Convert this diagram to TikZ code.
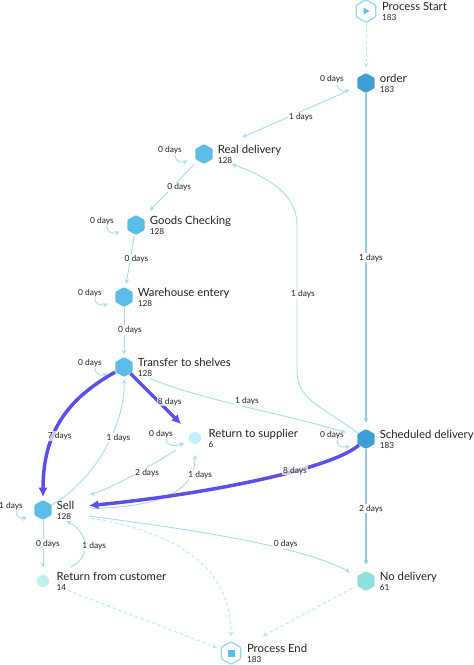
\documentclass[tikz,border=0pt]{standalone}
\usepackage{fontspec}
\setmainfont{Lato}
\usepackage{tikz}
\usetikzlibrary{shapes.geometric, positioning, calc, arrows.meta}

\definecolor{hexdark}{HTML}{3E9ED6}
\definecolor{hexmid}{HTML}{5CBDE9}
\definecolor{hexsup}{HTML}{C6F0F8}
\definecolor{hexcust}{HTML}{C2F0EE}
\definecolor{hexnodel}{HTML}{8DE0DE}
\definecolor{hexline}{HTML}{9AD6F0}
\definecolor{edgeblue}{HTML}{A9DCEF}
\definecolor{mainblue}{HTML}{8ECDEA}
\definecolor{dashcyan}{HTML}{B2EBF2}
\definecolor{heavyviolet}{HTML}{5B4EEA}
\definecolor{textdark}{HTML}{222222}

\newcommand{\nodecount}{\fontsize{6.2}{6.5}\selectfont}

\tikzset{
  hex/.style={regular polygon, regular polygon sides=6, shape border rotate=30,
    minimum size=15pt, inner sep=0pt, rounded corners=0.8pt},
  hexbig/.style={hex, fill=hexdark},
  hexnorm/.style={hex, fill=hexmid},
  hexsmall/.style={hex, minimum size=10pt},
  hexterm/.style={hex, minimum size=17pt, draw=hexline, line width=0.9pt, fill=white},
  nodelbl/.style={font=\fontsize{8.5}{9}\selectfont, align=left, inner sep=0pt, text=textdark},
  elbl/.style={font=\fontsize{6.3}{6.5}\selectfont, text=textdark, fill=white, inner sep=0.6pt},
  hlbl/.style={elbl, fill opacity=0.7, text opacity=1},
  edge/.style={draw=edgeblue, line width=0.7pt, -{Stealth[length=3.6pt,width=3.6pt]}},
  mainedge/.style={edge, draw=mainblue, line width=1.1pt},
  dashedge/.style={edge, draw=dashcyan, dashed, dash pattern={on 2.5pt off 2pt}},
  heavy/.style={draw=heavyviolet, line width=2.6pt, -{Latex[length=7pt,width=7pt]}},
}

\begin{document}
\begin{tikzpicture}[x=0.75pt,y=0.75pt,yscale=-1,xscale=1]
\useasboundingbox (0,0) rectangle (474,665);

% Hexagon nodes
\node[hexterm] (start) at (366,11) {};
\node[hexbig] (order) at (366,83) {};
\node[hexnorm] (realdel) at (204,154) {};
\node[hexnorm] (goods) at (136,225) {};
\node[hexnorm] (wareh) at (124,297) {};
\node[hexnorm] (transfer) at (124,367) {};
\node[hexsmall, fill=hexsup] (retsup) at (195,438) {};
\node[hexnorm] (sell) at (43,510) {};
\node[hexbig] (sched) at (366,439) {};
\node[hexsmall, fill=hexcust] (retcust) at (43,581) {};
\node[hex, fill=hexnodel] (nodel) at (366,581) {};
\node[hexterm] (pend) at (231,653) {};

% Start and end icons
\fill[hexmid] ($(start)+(-2.5,-3.5)$) -- ($(start)+(-2.5,3.5)$) -- ($(start)+(3.5,0)$) -- cycle;
\fill[hexmid] ($(pend)+(-3.5,-3.5)$) rectangle ($(pend)+(3.5,3.5)$);

% Text Nodes
\node[nodelbl, right=4pt of start] (start-txt) {Process Start\\[-1.5pt]{\nodecount 183}};
\node[nodelbl, right=3.5pt of order] (order-txt) {order\\[-1.5pt]{\nodecount 183}};
\node[nodelbl, right=3.5pt of realdel] (realdel-txt) {Real delivery\\[-1.5pt]{\nodecount 128}};
\node[nodelbl, right=3.5pt of goods] (goods-txt) {Goods Checking\\[-1.5pt]{\nodecount 128}};
\node[nodelbl, right=3.5pt of wareh] (wareh-txt) {Warehouse entery\\[-1.5pt]{\nodecount 128}};
\node[nodelbl, right=3.5pt of transfer] (transfer-txt) {Transfer to shelves\\[-1.5pt]{\nodecount 128}};
\node[nodelbl, right=5.5pt of retsup] (retsup-txt) {Return to supplier\\[-1.5pt]{\nodecount 6}};
\node[nodelbl, right=3.5pt of sell] (sell-txt) {Sell\\[-1.5pt]{\nodecount 128}};
\node[nodelbl, right=3.5pt of sched] (sched-txt) {Scheduled delivery\\[-1.5pt]{\nodecount 183}};
\node[nodelbl, right=5.5pt of retcust] (retcust-txt) {Return from customer\\[-1.5pt]{\nodecount 14}};
\node[nodelbl, right=3.5pt of nodel] (nodel-txt) {No delivery\\[-1.5pt]{\nodecount 61}};
\node[nodelbl, right=4pt of pend] (pend-txt) {Process End\\[-1.5pt]{\nodecount 183}};

% Self loops
\draw[edge, shorten >=6pt] ($(order)+(-29,1)$) .. controls ($(order)+(-29,8)$) and ($(order)+(-22,9)$) .. node[elbl, pos=0, shift={(-5,5)}] {0 days} (order);
\draw[edge, shorten >=6pt] ($(realdel)+(-29,1)$) .. controls ($(realdel)+(-29,8)$) and ($(realdel)+(-22,9)$) .. node[elbl, pos=0, shift={(-5,5)}] {0 days} (realdel);
\draw[edge, shorten >=6pt] ($(goods)+(-29,1)$) .. controls ($(goods)+(-29,8)$) and ($(goods)+(-22,9)$) .. node[elbl, pos=0, shift={(-5,5)}] {0 days} (goods);
\draw[edge, shorten >=6pt] ($(wareh)+(-29,1)$) .. controls ($(wareh)+(-29,8)$) and ($(wareh)+(-22,9)$) .. node[elbl, pos=0, shift={(-5,5)}] {0 days} (wareh);
\draw[edge, shorten >=6pt] ($(transfer)+(-29,1)$) .. controls ($(transfer)+(-29,8)$) and ($(transfer)+(-22,9)$) .. node[elbl, pos=0, shift={(-5,5)}] {0 days} (transfer);
\draw[edge, shorten >=4pt] ($(retsup)+(-29,1)$) .. controls ($(retsup)+(-29,8)$) and ($(retsup)+(-20,9)$) .. node[elbl, pos=0, shift={(-5,5)}] {0 days} (retsup);
\draw[edge, shorten >=6pt] ($(sell)+(-27,1)$) .. controls ($(sell)+(-27,8)$) and ($(sell)+(-21,9)$) .. node[elbl, pos=0, shift={(-5,5)}] {1 days} (sell);
\draw[edge, shorten >=6pt] ($(sched)+(-29,1)$) .. controls ($(sched)+(-29,8)$) and ($(sched)+(-22,9)$) .. node[elbl, pos=0, shift={(-5,5)}] {0 days} (sched);

% Straight Lines
\draw[dashedge, shorten >=4pt] (start) -- (order);
\draw[edge, shorten <=7pt, shorten >=24pt] (order) -- node[elbl, pos=0.39, shift={(0,-6)}] {1 days} (realdel);
\draw[mainedge, shorten >=4.5pt] (order) -- node[elbl, pos=0.49, shift={(5,0)}] {1 days} (sched);
\draw[edge, shorten <=4pt, shorten >=8pt] (realdel) -- node[elbl, pos=0.46, shift={(7,0)}] {0 days} (goods);
\draw[edge, shorten <=1.5pt, shorten >=3pt] (goods) -- node[elbl, pos=0.46, shift={(6,0)}] {0 days} (wareh);
\draw[edge, shorten >=1.5pt] (wareh) -- node[elbl, pos=0.46, shift={(6,0)}] {0 days} (transfer);
\draw[mainedge, shorten >=4.5pt] (sched) -- node[elbl, pos=0.49, shift={(5,0)}] {2 days} (nodel);
\draw[edge, shorten >=5pt] (sell) -- node[elbl, pos=0.44, shift={(5,0)}] {0 days} (retcust);

% Curve Lines
\draw[edge, shorten >=1.5pt] (sell) .. controls (95,480) and (125,425) .. node[elbl, pos=0.6, shift={(7,-2)}] {1 days} (transfer);
\draw[edge, shorten <=14pt, shorten >=9pt] (transfer) .. controls (200,400) and (290,415) .. node[elbl, pos=0.5, shift={(2,5)}] {1 days} (sched);
\draw[edge, shorten <=12pt, shorten >=30pt] (retsup) .. controls (160,460) and (120,485) .. node[elbl, pos=0.47, shift={(8,-2)}] {2 days} (sell);
\draw[edge, shorten <=30pt, shorten >=7.5pt] (sell) .. controls (140,507) and (195,500) .. node[elbl, pos=0.78, shift={(13,0)}] {1 days} (retsup);
\draw[edge, shorten <=18pt, shorten >=12pt] (retcust) .. controls (95,555) and (85,530) .. node[elbl, pos=0.5, shift={(14,-3)}] {1 days} (sell);
\draw[edge, shorten <=28pt, shorten >=6pt] (sell) .. controls (180,528) and (300,545) .. node[elbl, pos=0.68, shift={(1,6)}] {0 days} (nodel);
\draw[edge, shorten >=15pt] (sched) .. controls (320,405) and (297,400) .. (297,370) -- node[elbl, pos=0.52, shift={(6,0)}] {1 days} (297,225) .. controls (297,195) and (270,178) .. (realdel);

% Dashed Lines
\draw[dashedge, shorten <=30pt, shorten >=3.5pt] (sell) .. controls (190,535) and (231,575) .. (pend);
\draw[dashedge, shorten <=15pt, shorten >=3pt] (retcust) -- (pend);
\draw[dashedge, shorten <=4pt, shorten >=18pt] (nodel) -- (pend);

% Heavy Lines
\draw[heavy, shorten >=2pt] (transfer) .. controls (75,395) and (43,425) .. node[hlbl, pos=0.65, shift={(6,0)}] {7 days} (sell);
\draw[heavy, shorten >=10pt] (transfer) -- node[hlbl, pos=0.47, shift={(11,0)}] {8 days} (retsup);
\draw[heavy, shorten >=28pt] (sched) .. controls (330,470) and (200,495) .. node[hlbl, pos=0.35] {8 days} (sell);
\end{tikzpicture}
\end{document}
